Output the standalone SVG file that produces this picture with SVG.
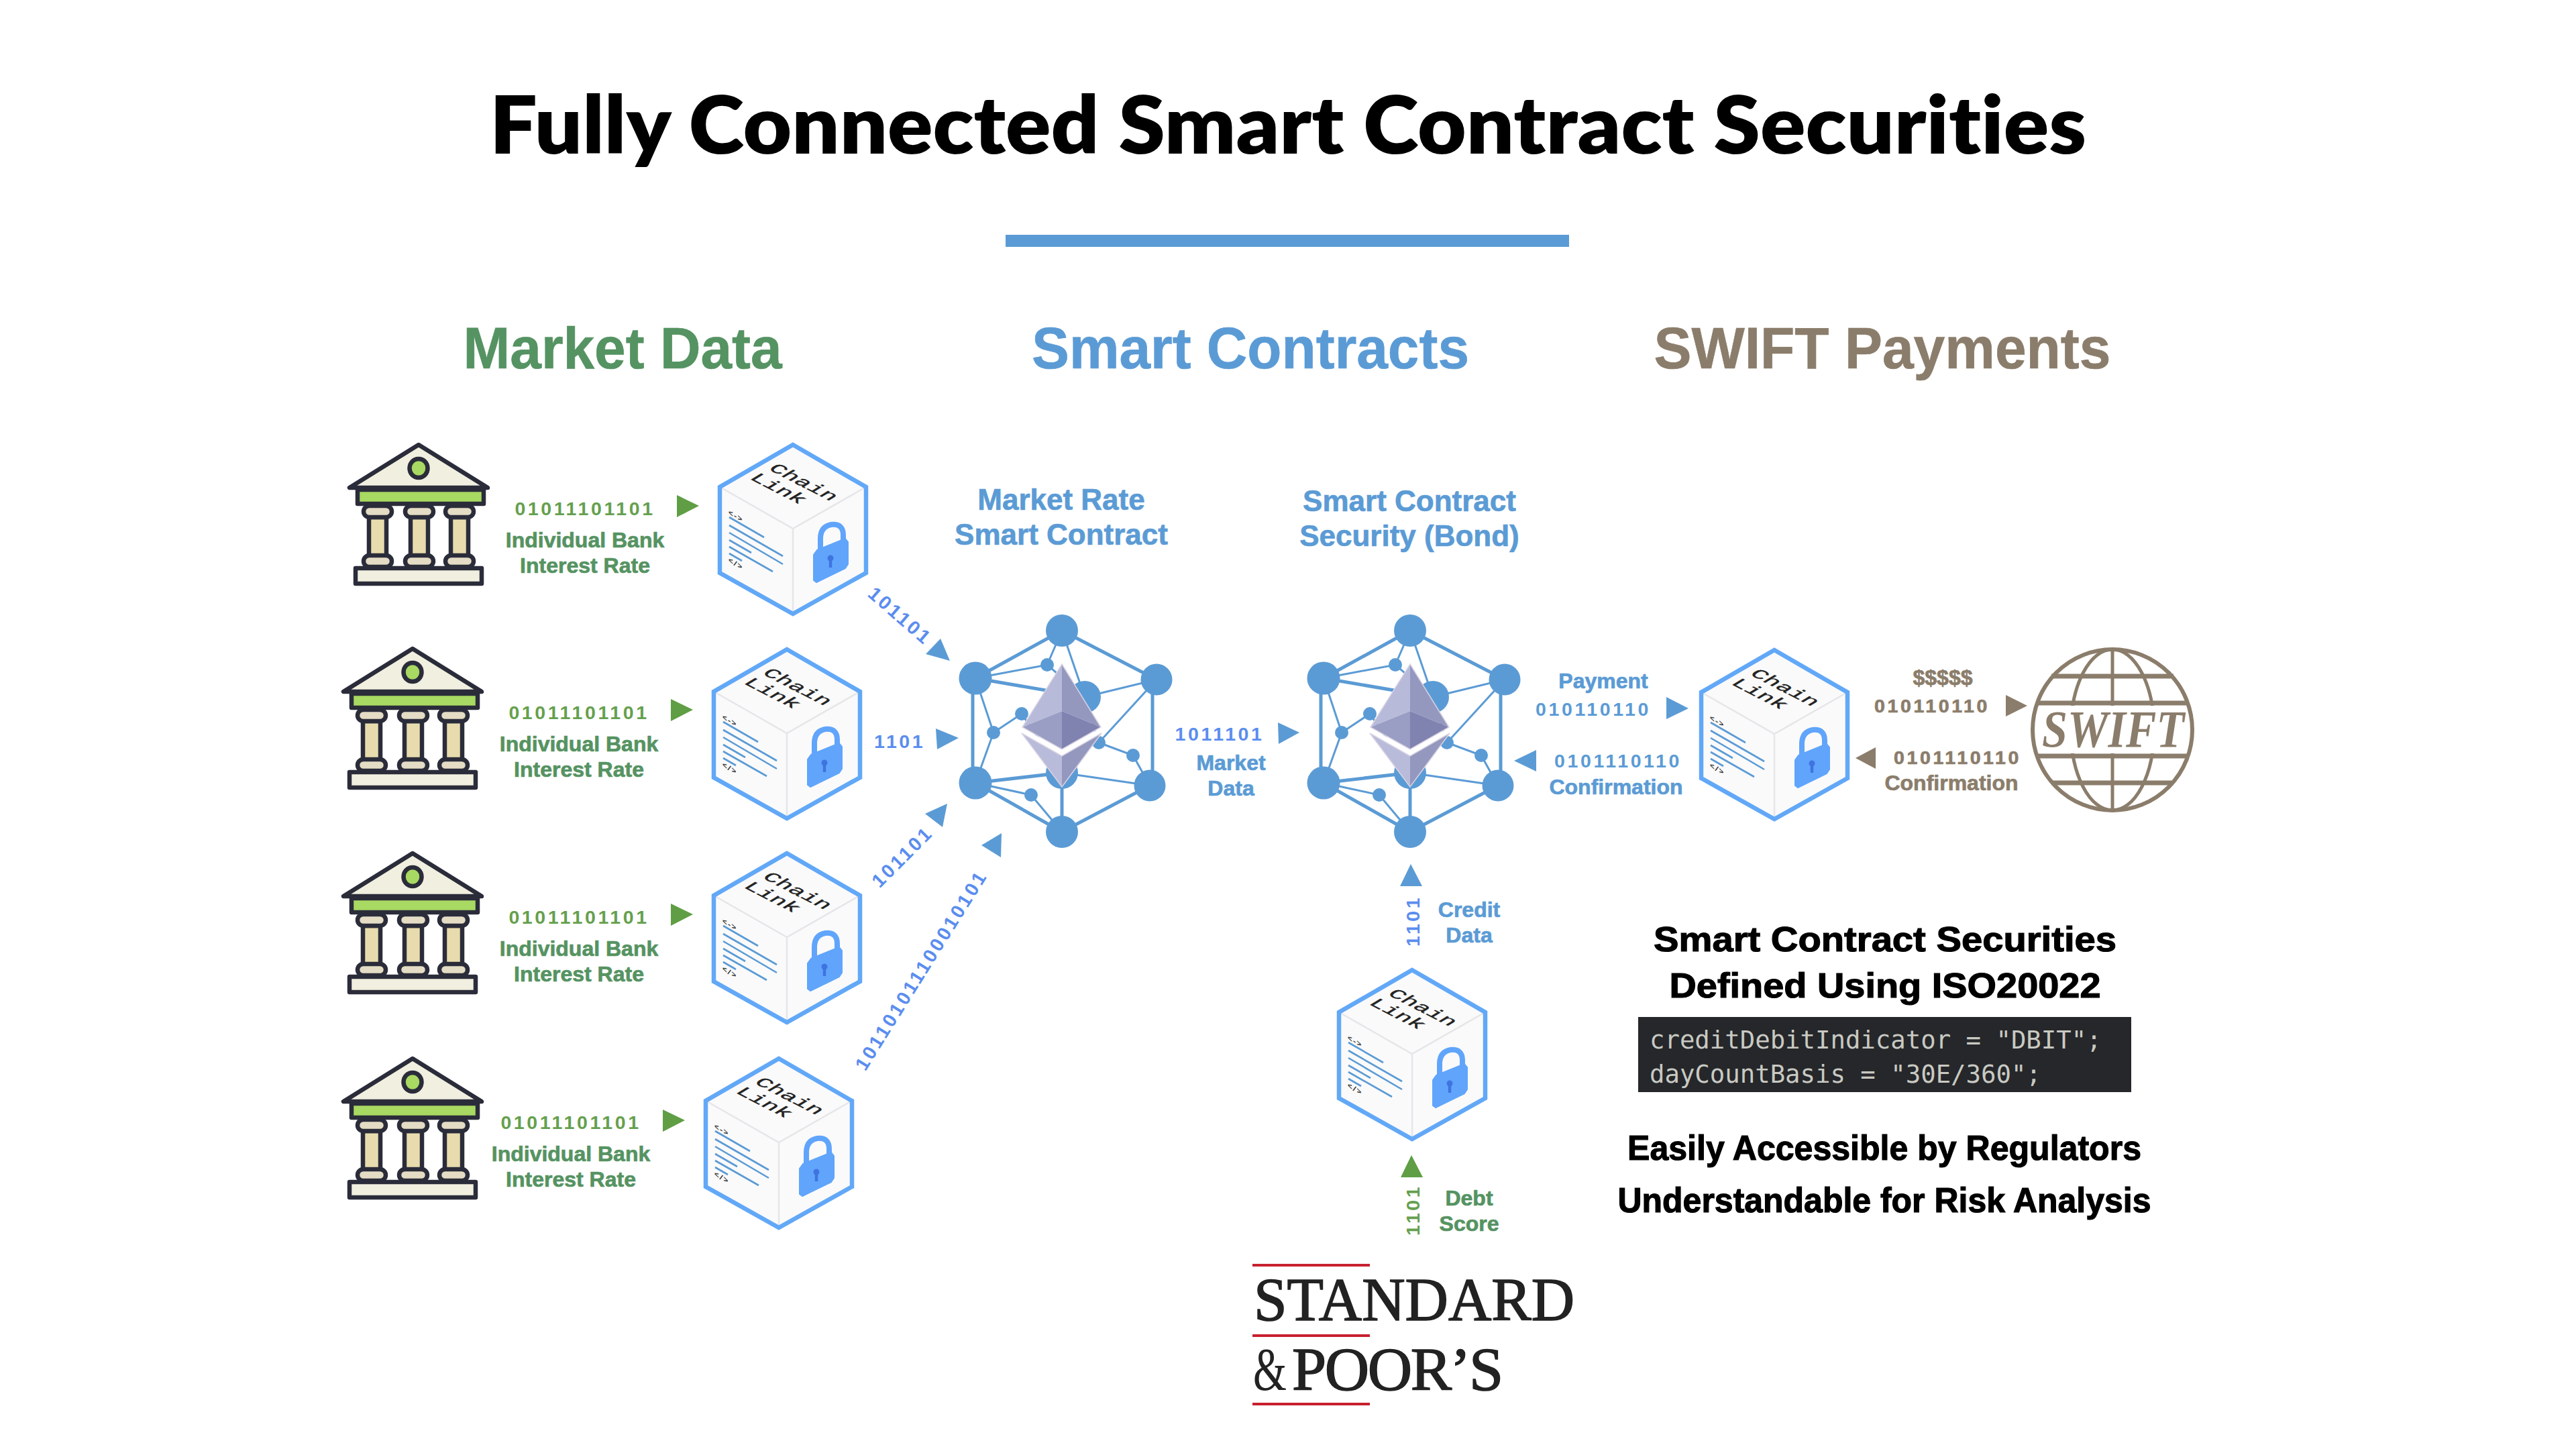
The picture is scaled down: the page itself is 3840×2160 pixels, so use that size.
<svg xmlns="http://www.w3.org/2000/svg" width="3840" height="2160" viewBox="0 0 3840 2160">
<style>
text{font-family:"Liberation Sans",Arial,sans-serif;font-weight:700;stroke-width:.7px}
.mid{text-anchor:middle}
.h{font-size:88px}
.l{font-size:32px}
.b{font-size:28.5px;letter-spacing:3.6px}
.bl{fill:#5b9bd5;stroke:#5b9bd5}.gr{fill:#559362;stroke:#559362}.br{fill:#8b7d6b;stroke:#8b7d6b}
.bb{fill:#5b8def}.bg{fill:#65a04e}
.ab{fill:#5b9bd5}.ag{fill:#5f9e45}.ak{fill:#8b7d6b}
.k{fill:#000;stroke:#000;stroke-width:1.2px;font-size:52.5px}
.top{font-family:"Liberation Mono",monospace;font-weight:400;font-size:33px;fill:#222;stroke:#222;stroke-width:.5px}
.tiny{font-family:"Liberation Mono",monospace;font-weight:700;font-size:13px;fill:#333}
.code{font-family:"DejaVu Sans Mono",monospace;font-weight:400;font-size:37.3px;fill:#c9c9c2}
.sp{font-family:"Liberation Serif",serif;font-weight:400;font-size:92px;fill:#222;stroke:#222;stroke-width:1.6px}
</style>
<defs>
<g id="bank" stroke="#2b2c3a" stroke-width="6.5" stroke-linejoin="round">
<polygon points="0,4 -103,68 103,68" fill="#f1efdf"/>
<ellipse cx="0" cy="39" rx="13.5" ry="14" fill="#a8d962"/>
<rect x="-74" y="112" width="26" height="60" fill="#e8dcae"/><rect x="-12" y="112" width="26" height="60" fill="#e8dcae"/><rect x="48" y="112" width="26" height="60" fill="#e8dcae"/>
<rect x="-82" y="95" width="42" height="17" rx="8.5" fill="#e4dcc4"/><rect x="-20" y="95" width="42" height="17" rx="8.5" fill="#e4dcc4"/><rect x="40" y="95" width="42" height="17" rx="8.5" fill="#e4dcc4"/>
<rect x="-82" y="169" width="42" height="17" rx="8.5" fill="#e4dcc4"/><rect x="-20" y="169" width="42" height="17" rx="8.5" fill="#e4dcc4"/><rect x="40" y="169" width="42" height="17" rx="8.5" fill="#e4dcc4"/>
<rect x="-91" y="71" width="188" height="21" fill="#a8d962"/>
<rect x="-94" y="188" width="188" height="23" fill="#f1efdf"/>
</g>
<g id="cube">
<polygon points="0,3 109,66 109,194 0,255 -109,194 -109,66" fill="#fafafa"/>
<path d="M-107,67 L0,128 L107,67 M0,128 V255" fill="none" stroke="#e6e6ea" stroke-width="2.5"/>
<polygon points="0,3 109,66 109,194 0,255 -109,194 -109,66" fill="none" stroke="#62a8f7" stroke-width="6.5"/>
<path d="M-95,111 L-43,141 M-95,123 L-15,169 M-95,134 L-15,181 M-95,145 L-62,164 M-95,155 L-30,192 M-95,165 L-76,176" stroke="#5b9bd5" stroke-width="2.6" fill="none"/>
<path d="M41,160 V143 Q41,125 57,122 Q75,120 75,138 V150" fill="none" stroke="#60a5fb" stroke-width="8"/>
<polygon points="31,167 36,160 78,143 82,148 82,181 78,187 35,208 31,205" fill="#60a5fb" stroke="#60a5fb" stroke-width="2" stroke-linejoin="round"/>
<circle cx="56" cy="172" r="4.5" fill="#3f74e0"/><path d="M56,172 V186" stroke="#3f74e0" stroke-width="4.5"/>
</g>
<g id="net">
<path d="M1583,940 L1454,1011 M1583,940 L1724,1013 M1450,1011 V1167 M1718,1013 V1171 M1454,1167 L1583,1240 M1714,1171 L1583,1240 M1454,1011 L1617,1039 M1454,1167 L1583,1152 M1583,1152 V1240" fill="none" stroke="#5b9bd5" stroke-width="5"/>
<path d="M1583,940 L1561,991 M1583,940 L1617,1039 M1454,1011 L1561,991 L1617,1039 M1454,1011 L1481,1092 L1454,1167 M1481,1092 L1523,1064 L1583,1152 M1724,1013 L1638,1107 L1689,1126 L1714,1171 M1617,1039 L1724,1013 M1583,1152 L1714,1171 M1454,1167 L1537,1185 L1583,1240 M1617,1039 L1638,1107" fill="none" stroke="#5b9bd5" stroke-width="3"/>
<g fill="#5b9bd5">
<circle cx="1583" cy="940" r="24"/><circle cx="1454" cy="1011" r="24.5"/><circle cx="1724" cy="1013" r="23.5"/><circle cx="1454" cy="1167" r="24.5"/><circle cx="1714" cy="1171" r="23.5"/><circle cx="1583" cy="1240" r="24"/>
<circle cx="1617" cy="1039" r="24"/><circle cx="1583" cy="1152" r="24"/>
<circle cx="1561" cy="991" r="10"/><circle cx="1523" cy="1064" r="10"/><circle cx="1481" cy="1092" r="10"/><circle cx="1638" cy="1107" r="10"/><circle cx="1689" cy="1126" r="10"/><circle cx="1537" cy="1185" r="10"/>
</g>
<polygon points="1583,1118 1522,1084 1519,1093 1583,1131 1647,1093 1643,1084" fill="#fff"/>
<polygon points="1583,1127 1523,1093 1583,1173" fill="#b9bbdb"/>
<polygon points="1583,1127 1642,1093 1583,1173" fill="#9498be"/>
<polygon points="1583,1127 1523,1093 1583,1173 1642,1093" fill="none" stroke="#d9d3e3" stroke-width="1.5"/>
<polygon points="1583,990 1524,1084 1583,1060" fill="#b8bada"/>
<polygon points="1583,990 1641,1084 1583,1060" fill="#9498bf"/>
<polygon points="1524,1084 1583,1060 1583,1117" fill="#9a9ec4"/>
<polygon points="1641,1084 1583,1060 1583,1117" fill="#8083b0"/>
<polygon points="1583,990 1641,1084 1583,1117 1524,1084" fill="none" stroke="#d9d3e3" stroke-width="1.5"/>
</g>
</defs>
<rect width="3840" height="2160" fill="#fff"/>

<g id="header">
<text x="1920" y="229" class="mid" style="font-family:Lato,'Liberation Sans',sans-serif;font-weight:800;font-size:120px;font-variant-ligatures:none" textLength="2380" lengthAdjust="spacingAndGlyphs">Fully Connected Smart Contract Securities</text>
<rect x="1499" y="350" width="840" height="18" fill="#5b9bd5"/>
<text x="928" y="549" class="mid h gr" textLength="475" lengthAdjust="spacingAndGlyphs">Market Data</text>
<text x="1864" y="549" class="mid h bl" textLength="652" lengthAdjust="spacingAndGlyphs">Smart Contracts</text>
<text x="2806" y="549" class="mid h br" textLength="681" lengthAdjust="spacingAndGlyphs">SWIFT Payments</text>
<text x="1582" y="760" class="mid l bl" style="font-size:44px">Market Rate</text>
<text x="1582" y="812" class="mid l bl" style="font-size:44px">Smart Contract</text>
<text x="2101" y="762" class="mid l bl" style="font-size:44px">Smart Contract</text>
<text x="2101" y="814" class="mid l bl" style="font-size:44px">Security (Bond)</text>
</g>

<g id="connectors">
<polygon class="ag" points="1009,738 1009,771 1042,754"/>
<polygon class="ag" points="1000,1042 1000,1075 1033,1058"/>
<polygon class="ag" points="1000,1347 1000,1380 1033,1363"/>
<polygon class="ag" points="988,1654 988,1687 1021,1670"/>
<polygon class="ab" points="1402,952 1380,975 1416,985"/>
<polygon class="ab" points="1395,1086 1397,1117 1429,1100"/>
<polygon class="ab" points="1412,1198 1379,1213 1405,1233"/>
<polygon class="ab" points="1493,1242 1463,1260 1492,1278"/>
<polygon class="ab" points="1905,1077 1906,1109 1937,1092"/>
<polygon class="ab" points="2484,1039 2484,1072 2517,1056"/>
<polygon class="ab" points="2290,1118 2290,1150 2257,1134"/>
<polygon class="ak" points="2990,1036 2990,1068 3022,1052"/>
<polygon class="ak" points="2796,1114 2796,1146 2766,1130"/>
<polygon class="ab" points="2103,1288 2087,1321 2120,1321"/>
<polygon class="ag" points="2104,1722 2088,1755 2121,1755"/>
<text class="b bb mid" transform="translate(1342,918) rotate(41)" y="10">101101</text>
<text class="b bb" x="1303" y="1115">1101</text>
<text class="b bb mid" transform="translate(1345,1277) rotate(-45)" y="10">101101</text>
<text class="b bb mid" transform="translate(1373,1446) rotate(-58)" y="10">101101011100010101</text>
<text class="b bb mid" x="1818" y="1104">1011101</text>
<text class="l bl mid" x="1835" y="1148">Market</text>
<text class="l bl mid" x="1835" y="1186">Data</text>
<text class="l bl mid" x="2390" y="1026">Payment</text>
<text class="b bb mid" x="2375" y="1067" style="fill:#5b9bd5">010110110</text>
<text class="b bb mid" x="2412" y="1144" style="fill:#5b9bd5">0101110110</text>
<text class="l bl mid" x="2409" y="1184">Confirmation</text>
<text class="l br mid" x="2896" y="1021">$$$$$</text>
<text class="b br mid" x="2880" y="1062">010110110</text>
<text class="b br mid" x="2918" y="1139">0101110110</text>
<text class="l br mid" x="2909" y="1178">Confirmation</text>
<text class="b bb" transform="translate(2116,1411) rotate(-90)">1101</text>
<text class="l bl mid" x="2190" y="1367">Credit</text>
<text class="l bl mid" x="2190" y="1405">Data</text>
<text class="b bg" transform="translate(2116,1842) rotate(-90)">1101</text>
<text class="l gr mid" x="2190" y="1797">Debt</text>
<text class="l gr mid" x="2190" y="1835">Score</text>
</g>

<g id="bank1" transform="translate(624,659)"><use href="#bank"/>
<text class="b bg mid" x="248" y="109">01011101101</text>
<text class="l gr mid" x="248" y="157">Individual Bank</text>
<text class="l gr mid" x="248" y="195">Interest Rate</text></g>
<g id="bank2" transform="translate(615,963)"><use href="#bank"/>
<text class="b bg mid" x="248" y="109">01011101101</text>
<text class="l gr mid" x="248" y="157">Individual Bank</text>
<text class="l gr mid" x="248" y="195">Interest Rate</text></g>
<g id="bank3" transform="translate(615,1268)"><use href="#bank"/>
<text class="b bg mid" x="248" y="109">01011101101</text>
<text class="l gr mid" x="248" y="157">Individual Bank</text>
<text class="l gr mid" x="248" y="195">Interest Rate</text></g>
<g id="bank4" transform="translate(615,1574)"><use href="#bank"/>
<text class="b bg mid" x="236" y="109">01011101101</text>
<text class="l gr mid" x="236" y="157">Individual Bank</text>
<text class="l gr mid" x="236" y="195">Interest Rate</text></g>

<g id="cube1" transform="translate(1182,660)"><use href="#cube"/>
<text class="top" transform="matrix(.95,.49,-.7,.42,-38,39)">Chain</text><text class="top" transform="matrix(.95,.49,-.7,.42,-66,53)">Link</text>
<text class="tiny" transform="matrix(.866,.5,0,.9,-96,107)">&lt;-&gt;</text><text class="tiny" transform="matrix(.866,.5,0,.9,-96,178)">&lt;/&gt;</text></g>
<g id="cube2" transform="translate(1173,965)"><use href="#cube"/>
<text class="top" transform="matrix(.95,.49,-.7,.42,-38,39)">Chain</text><text class="top" transform="matrix(.95,.49,-.7,.42,-66,53)">Link</text>
<text class="tiny" transform="matrix(.866,.5,0,.9,-96,107)">&lt;-&gt;</text><text class="tiny" transform="matrix(.866,.5,0,.9,-96,178)">&lt;/&gt;</text></g>
<g id="cube3" transform="translate(1173,1269)"><use href="#cube"/>
<text class="top" transform="matrix(.95,.49,-.7,.42,-38,39)">Chain</text><text class="top" transform="matrix(.95,.49,-.7,.42,-66,53)">Link</text>
<text class="tiny" transform="matrix(.866,.5,0,.9,-96,107)">&lt;-&gt;</text><text class="tiny" transform="matrix(.866,.5,0,.9,-96,178)">&lt;/&gt;</text></g>
<g id="cube4" transform="translate(1161,1575)"><use href="#cube"/>
<text class="top" transform="matrix(.95,.49,-.7,.42,-38,39)">Chain</text><text class="top" transform="matrix(.95,.49,-.7,.42,-66,53)">Link</text>
<text class="tiny" transform="matrix(.866,.5,0,.9,-96,107)">&lt;-&gt;</text><text class="tiny" transform="matrix(.866,.5,0,.9,-96,178)">&lt;/&gt;</text></g>
<g id="cube5" transform="translate(2645,966)"><use href="#cube"/>
<text class="top" transform="matrix(.95,.49,-.7,.42,-38,39)">Chain</text><text class="top" transform="matrix(.95,.49,-.7,.42,-66,53)">Link</text>
<text class="tiny" transform="matrix(.866,.5,0,.9,-96,107)">&lt;-&gt;</text><text class="tiny" transform="matrix(.866,.5,0,.9,-96,178)">&lt;/&gt;</text></g>
<g id="cube6" transform="translate(2105,1443)"><use href="#cube"/>
<text class="top" transform="matrix(.95,.49,-.7,.42,-38,39)">Chain</text><text class="top" transform="matrix(.95,.49,-.7,.42,-66,53)">Link</text>
<text class="tiny" transform="matrix(.866,.5,0,.9,-96,107)">&lt;-&gt;</text><text class="tiny" transform="matrix(.866,.5,0,.9,-96,178)">&lt;/&gt;</text></g>

<g id="net1"><use href="#net"/></g>
<g id="net2" transform="translate(519,0)"><use href="#net"/></g>

<g id="swift" fill="none" stroke="#8b7d6b">
<ellipse cx="3149" cy="1088" rx="62" ry="120" stroke-width="5"/>
<path d="M3149,968 V1208" stroke-width="5"/>
<path d="M3058,1008 H3240 M3037,1048 H3261 M3037,1127 H3261 M3058,1167 H3240" stroke-width="7"/>
<rect x="3031" y="1052" width="236" height="71" fill="#fff" stroke="none"/>
<ellipse cx="3149" cy="1088" rx="119" ry="120" stroke-width="6"/>
<text x="3150" y="1113" text-anchor="middle" stroke="none" fill="#8b7d6b" style="font-family:'Liberation Serif',serif;font-style:italic;font-weight:700;font-size:78px" textLength="212" lengthAdjust="spacingAndGlyphs">SWIFT</text>
</g>

<g id="iso">
<text class="k mid" x="2810" y="1418" textLength="690" lengthAdjust="spacingAndGlyphs">Smart Contract Securities</text>
<text class="k mid" x="2810" y="1487" textLength="643" lengthAdjust="spacingAndGlyphs">Defined Using ISO20022</text>
<rect x="2442" y="1516" width="735" height="112" fill="#25272a"/>
<text class="code" x="2459" y="1563">creditDebitIndicator = "DBIT";</text>
<text class="code" x="2459" y="1614">dayCountBasis = "30E/360";</text>
<text class="k mid" x="2809" y="1729" textLength="766" lengthAdjust="spacingAndGlyphs">Easily Accessible by Regulators</text>
<text class="k mid" x="2809" y="1807" textLength="795" lengthAdjust="spacingAndGlyphs">Understandable for Risk Analysis</text>
</g>

<g id="sp-logo">
<path d="M1867,1886 H2042 M1867,1991 H2042 M1867,2093 H2042" stroke="#c8202f" stroke-width="4"/>
<text class="sp" x="1869" y="1968" textLength="478" lengthAdjust="spacingAndGlyphs">STANDARD</text>
<text class="sp" y="2072"><tspan x="1868" textLength="50" lengthAdjust="spacingAndGlyphs" style="stroke:none">&amp;</tspan><tspan x="1926" style="letter-spacing:-2.4px">POOR’S</tspan></text>
</g>
</svg>
